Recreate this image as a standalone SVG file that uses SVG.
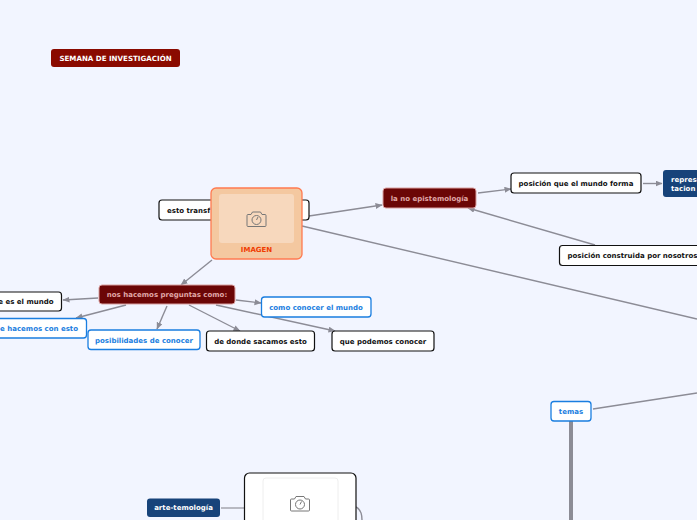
<svg xmlns="http://www.w3.org/2000/svg" width="697" height="520" viewBox="0 0 697 520">
<style>
text{font-family:"DejaVu Sans","Liberation Sans",sans-serif;font-weight:700;font-size:7px;text-anchor:middle;dominant-baseline:central}
.k rect{fill:#fff;stroke:#111;stroke-width:1.2}
.k text{fill:#111}
.b rect{fill:#fff;stroke:#1a7ee0;stroke-width:1.3}
.b text{fill:#1a7ee0}
.r rect{fill:#6b0606;stroke:#d9a0a0;stroke-width:1}
.r text{fill:#e0a8a8}
.n rect{fill:#17437a}
.n text{fill:#fff}
.c{fill:none;stroke:#8c8c96;stroke-width:1.4}
.cam{fill:none;stroke:#777;stroke-width:1}
</style>
<defs>
<marker id="a" markerWidth="8" markerHeight="8" refX="6.5" refY="3" orient="auto" markerUnits="userSpaceOnUse"><path d="M0 0L7 3L0 6z" fill="#8c8c96"/></marker>
<g id="camera" class="cam"><path d="M-8.500 -4.500h3l1.500 -2.500h8l1.500 2.500h3a1 1 0 0 1 1 1v10a1 1 0 0 1 -1 1h-17a1 1 0 0 1 -1 -1v-10a1 1 0 0 1 1 -1z"/><circle cx="0" cy="1" r="4.500"/><path d="M0 1l1.500 -3"/></g>
</defs>
<rect width="697" height="520" fill="#f2f5ff"/>
<g id="connectors">
<path class="c" marker-end="url(#a)" d="M309 216L382 205"/>
<path class="c" d="M302 226L697 319"/>
<path class="c" marker-end="url(#a)" d="M212 260L181 285"/>
<path class="c" marker-end="url(#a)" d="M478 193L511 189"/>
<path class="c" marker-end="url(#a)" d="M643 183.500L662 183.500"/>
<path class="c" marker-end="url(#a)" d="M595 245L468 208"/>
<path class="c" marker-end="url(#a)" d="M98 298L63 300"/>
<path class="c" marker-end="url(#a)" d="M126 305L76 318"/>
<path class="c" marker-end="url(#a)" d="M167 306L157 329"/>
<path class="c" marker-end="url(#a)" d="M189 305L240 331"/>
<path class="c" marker-end="url(#a)" d="M216 305L335 331"/>
<path class="c" marker-end="url(#a)" d="M236 300L261 303"/>
<path class="c" d="M593 409L697 393"/>
<path d="M571 421V520" fill="none" stroke="#8c8c96" stroke-width="4"/>
<path d="M221 508H244" fill="none" stroke="#a4a4ae" stroke-width="1.500"/>
<path d="M356 507Q362 510 362 520" fill="none" stroke="#8c8c96" stroke-width="1.400"/>
</g>
<g id="semana"><rect x="51" y="49" width="129" height="18" rx="3" fill="#8a0a00"/><text x="115.500" y="58.500" fill="#fff" style="font-size:7.100px">SEMANA DE INVESTIGACIÓN</text></g>
<g id="esto" class="k"><rect x="159" y="200" width="150" height="20" rx="3"/><text x="167" y="210.500" style="text-anchor:start">esto transf</text></g>
<g id="imagen"><rect x="211" y="188" width="91" height="71" rx="5" fill="#f4c8a0" stroke="#ff7a50" stroke-width="1.300"/><rect x="219" y="194" width="75" height="49" rx="3" fill="#f7d8bd"/><use href="#camera" x="256.500" y="219"/><text x="256.500" y="249.500" fill="#f03c00">IMAGEN</text></g>
<g id="epistemologia" class="r"><rect x="383" y="188" width="93" height="20" rx="3"/><text x="429.500" y="198.500">la no epistemología</text></g>
<g id="forma" class="k"><rect x="511" y="173" width="130" height="20" rx="3"/><text x="576" y="183.500">posición que el mundo forma</text></g>
<g id="representacion" class="n"><rect x="663" y="170" width="50" height="27" rx="3"/><text x="671" y="179.500" style="text-anchor:start">represen</text><text x="671" y="188.500" style="text-anchor:start">tacion</text></g>
<g id="construida" class="k"><rect x="559.500" y="245.500" width="150" height="20" rx="3"/><text x="567.500" y="255.500" style="text-anchor:start">posición construida por nosotros</text></g>
<g id="preguntas" class="r"><rect x="99" y="285" width="136" height="19" rx="3"/><text x="167" y="295">nos hacemos preguntas como:</text></g>
<g id="mundo" class="k"><rect x="-20" y="292" width="81.500" height="19" rx="3"/><text x="53.500" y="302" style="text-anchor:end">que es el mundo</text></g>
<g id="hacemos" class="b"><rect x="-30" y="318.500" width="116.500" height="19.500" rx="3"/><text x="78" y="328.500" style="text-anchor:end">que hacemos con esto</text></g>
<g id="posibilidades" class="b"><rect x="88" y="330" width="112" height="19.500" rx="3"/><text x="144" y="340.500">posibilidades de conocer</text></g>
<g id="donde" class="k"><rect x="206.500" y="331" width="108" height="20" rx="3"/><text x="260.500" y="341.500">de donde sacamos esto</text></g>
<g id="podemos" class="k"><rect x="332" y="331" width="102" height="20" rx="3"/><text x="383" y="341.500">que podemos conocer</text></g>
<g id="como" class="b"><rect x="261.500" y="297" width="109.500" height="20" rx="3"/><text x="316" y="307.500">como conocer el mundo</text></g>
<g id="temas" class="b"><rect x="551" y="401.500" width="40" height="19.500" rx="3"/><text x="571" y="411.500">temas</text></g>
<g id="arte" class="n"><rect x="147" y="498.500" width="73" height="18.500" rx="3"/><text x="183.500" y="508">arte-temología</text></g>
<g id="foto" class="k"><rect x="244.500" y="473" width="111.500" height="70" rx="5"/><rect x="263" y="478" width="75" height="60" rx="3" style="fill:#fff;stroke:#eee;stroke-width:1"/><use href="#camera" x="300" y="503.500"/></g>
</svg>
